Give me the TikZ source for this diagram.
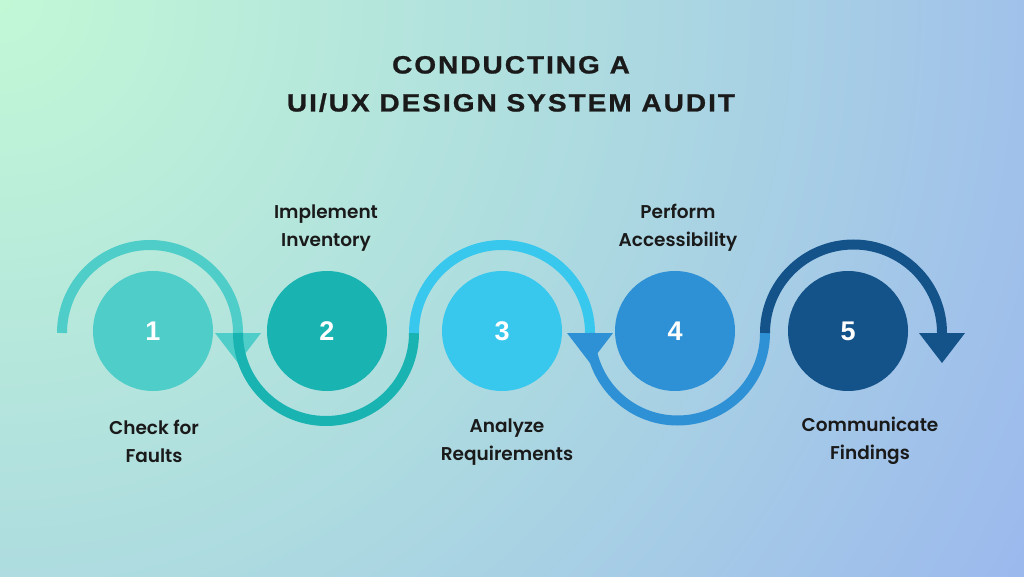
\documentclass[tikz,border=0pt]{standalone}
\usepackage{fontspec}
\setmainfont{Liberation Sans}
\newfontfamily\titlefont{Liberation Sans}[BoldFeatures={FakeStretch=1.12, FakeBold=1, LetterSpace=8}]
\newfontfamily\labelfont{Poppins SemiBold}
\definecolor{bgmint}{HTML}{C2F8D6}
\definecolor{bgmid}{HTML}{ADDBE0}
\definecolor{bgblue}{HTML}{9BB7EE}
\definecolor{cA}{HTML}{4ECDC9}
\definecolor{cB}{HTML}{19B4B1}
\definecolor{cC}{HTML}{38C8EE}
\definecolor{cD}{HTML}{2E90D5}
\definecolor{cE}{HTML}{14528A}
\definecolor{ink}{HTML}{1A1A1A}
\pgfdeclareradialshading{bgglow}{\pgfpoint{0bp}{0bp}}{color(0bp)=(bgmint); color(12.5bp)=(bgmid); color(25bp)=(bgblue); color(50bp)=(bgblue)}
\begin{document}
\begin{tikzpicture}[x=1pt, y=1pt,
    circ/.style={circle, minimum size=120pt, inner sep=0pt, text=white,
                 font=\fontsize{27}{27}\selectfont\bfseries},
    band/.style={line width=10pt},
    lbl/.style={align=center, text=ink,
                font=\labelfont\fontsize{18.5}{28}\selectfont}]
  \useasboundingbox (0,0) rectangle (1024,576);
  % --- Arka plan ---
  \begin{scope}
    \clip (0,0) rectangle (1024,576);
    \shade[shading=bgglow] (0,576) circle (1200);
  \end{scope}

  % --- Baslik ---
  \node[align=center, text=ink, font=\titlefont\fontsize{25}{38}\selectfont\bfseries]
    (title) at (511,492) {CONDUCTING A\\UI/UX DESIGN SYSTEM AUDIT};

  % --- Birlesme noktalari ---
  \foreach \j/\x in {0/62, 1/238, 2/414, 3/590, 4/765, 5/942} {
    \coordinate (J\j) at (\x,243);
  }

  % --- Yaylar ve oklar ---
  \draw[band, cA] (J0) arc[start angle=180, end angle=0, radius=88];
  \fill[cA] (J1) ++(-23,0) -- ++(46,0) -- ++(-23,-30) -- cycle;
  \draw[band, cB] (J1) arc[start angle=180, end angle=360, radius=88];
  \draw[band, cC] (J2) arc[start angle=180, end angle=0, radius=88];
  \fill[cD] (J3) ++(-23,0) -- ++(46,0) -- ++(-23,-30) -- cycle;
  \draw[band, cD] (J3) arc[start angle=180, end angle=360, radius=87.5];
  \draw[band, cE] (J4) arc[start angle=180, end angle=0, radius=88.5];
  \fill[cE] (J5) ++(-23,0) -- ++(46,0) -- ++(-23,-30) -- cycle;

  % --- Daireler ---
  \foreach \i/\x/\col in {1/153/cA, 2/327/cB, 3/502/cC, 4/675/cD, 5/848/cE} {
    \node[circ, fill=\col] (c\i) at (\x,245) {\i};
  }

  % --- Etiketler ---
  \node[lbl] (t1) at (154,135) {Check for\\Faults};
  \node[lbl] (t2) at (326,348) {Implement\\Inventory};
  \node[lbl] (t3) at (507,134) {Analyze\\Requirements};
  \node[lbl] (t4) at (678,348) {Perform\\Accessibility};
  \node[lbl] (t5) at (870,135) {Communicate\\Findings};
\end{tikzpicture}
\end{document}
